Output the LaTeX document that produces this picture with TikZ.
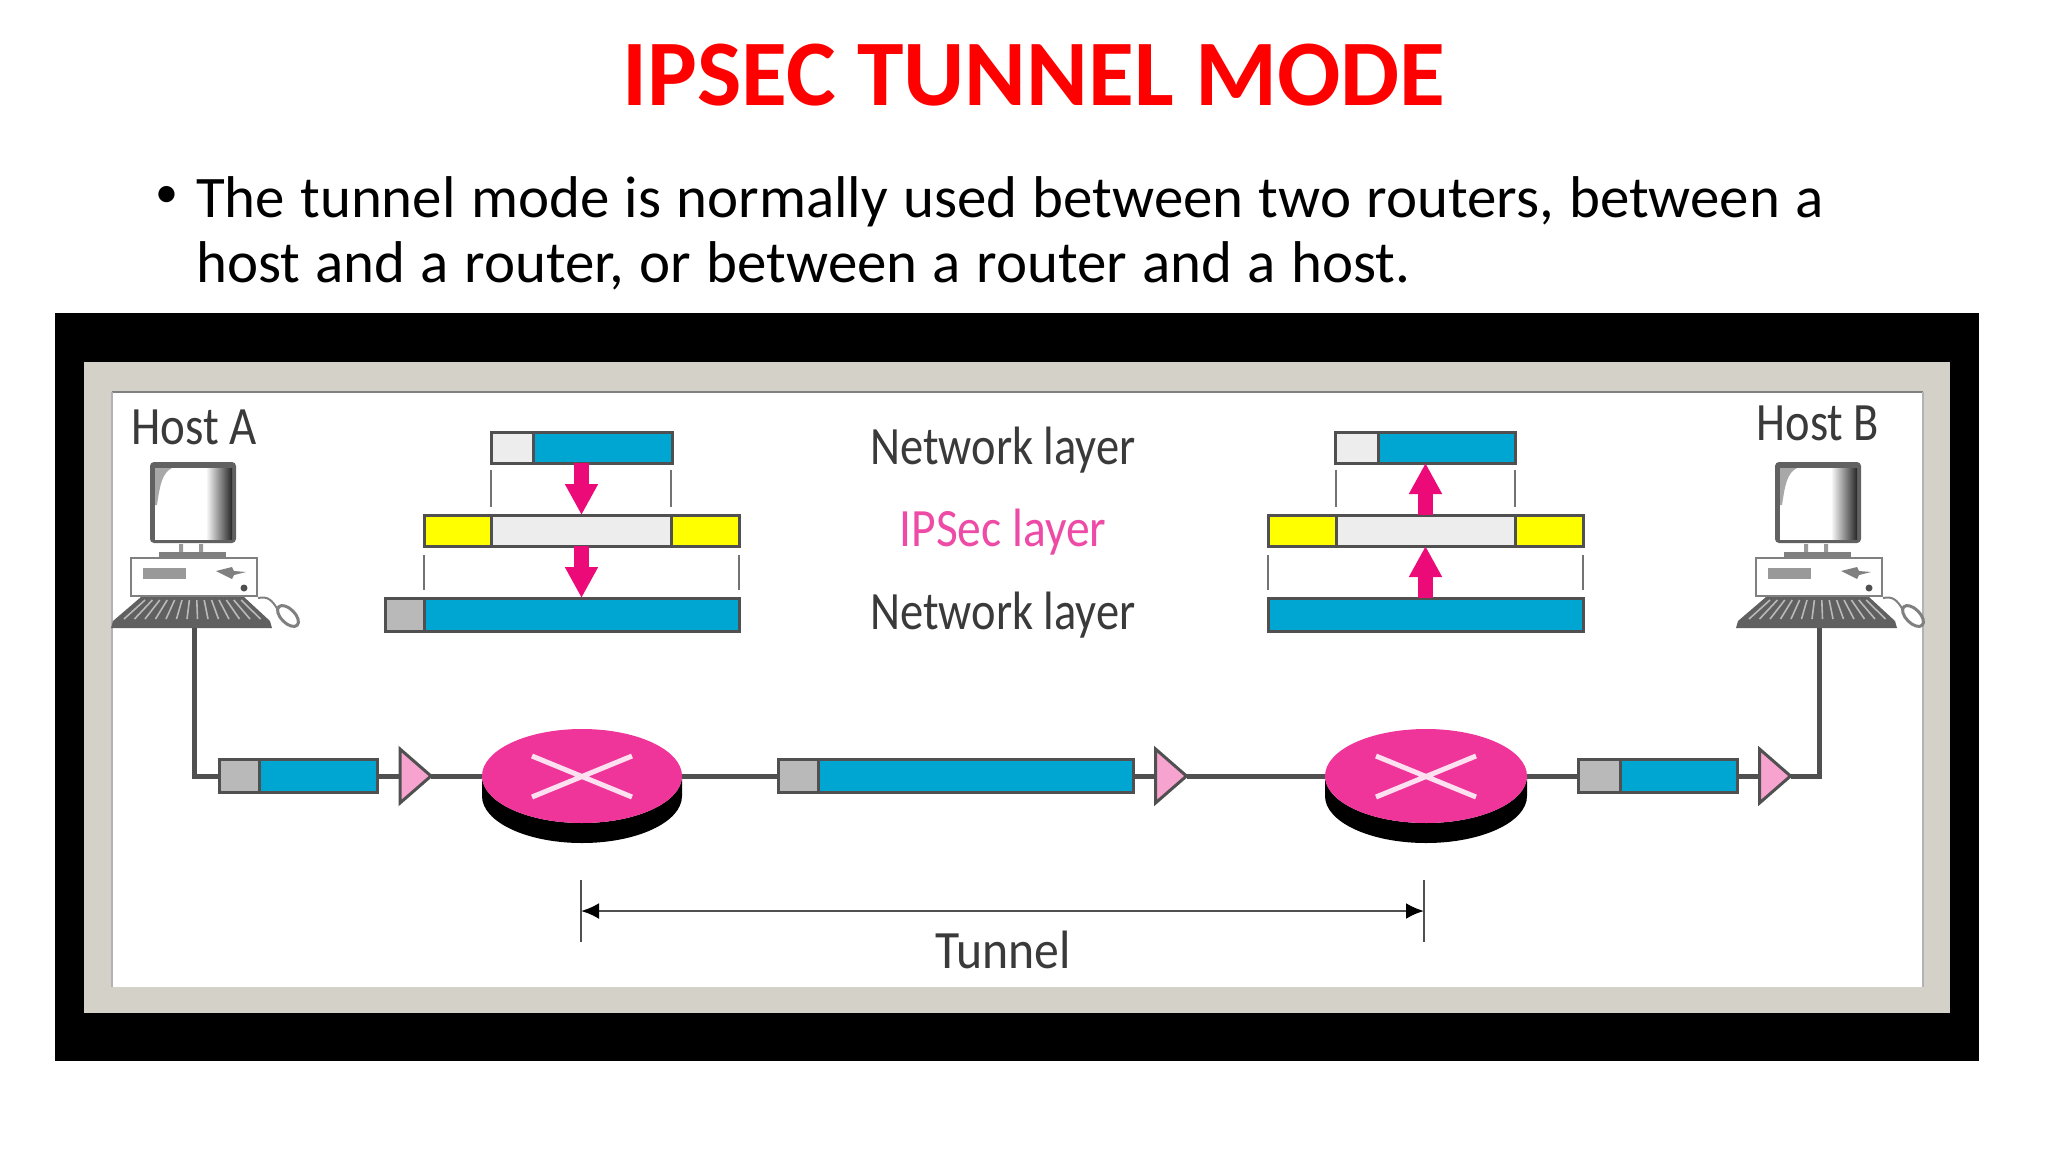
\documentclass[tikz,border=0pt]{standalone}
\usepackage{fontspec}
\setmainfont{Carlito}
\usetikzlibrary{arrows.meta,shapes.geometric}
\definecolor{framegrey}{HTML}{D3D1C8}
\definecolor{barblue}{HTML}{00A6D2}
\definecolor{baryellow}{HTML}{FFFF00}
\definecolor{hdrgrey}{HTML}{B9B9B9}
\definecolor{hdrlight}{HTML}{EDEDED}
\definecolor{edgegrey}{HTML}{505050}
\definecolor{routerpink}{HTML}{EF359A}
\definecolor{arrowpink}{HTML}{EC0A78}
\definecolor{tripink}{HTML}{F7A3CF}
\definecolor{ipsecpink}{HTML}{EE4BA6}
\definecolor{labelgrey}{HTML}{3A3A3A}
\pgfdeclarehorizontalshading{screenshade}{100bp}{color(0bp)=(white);color(25bp)=(white);color(58bp)=(white);color(75bp)=(black!85);color(100bp)=(black!85)}
\tikzset{
  x=1pt,y=-1pt,
  bar/.style={draw=edgegrey,line width=3pt,inner sep=0pt,outer sep=0pt,minimum height=#1,anchor=north west},
  bar/.default=31pt,
  linkline/.style={draw=edgegrey,line width=5pt,line join=miter},
  tick/.style={draw=edgegrey!80,line width=2pt},
  pinkarrow/.style={draw=arrowpink,line width=15pt,-{Triangle[length=31pt,width=31pt]},shorten >=0pt},
  tribox/.style={inner sep=0pt,outer sep=0pt,minimum width=31pt,minimum height=54pt},
  trifill/.style={fill=tripink,draw=edgegrey,line width=3pt,line join=miter},
  routertop/.style={ellipse,fill=routerpink,inner sep=0pt,outer sep=0pt},
  labeltext/.style={text=labelgrey,font=\fontsize{54}{54}\selectfont,inner sep=0pt},
}
% segmented packet: name, x, y, width, height, colour
\newcommand{\segbar}[6]{\node[bar=#5pt,minimum width=#4pt,fill=#6] (#1) at (#2,#3) {};}
\newcommand{\divider}[3]{\draw[edgegrey,line width=3pt] (#1,#2) -- (#1,#3);}
\newcommand{\hostpc}[2]{%
\begin{scope}[shift={(#1,0)}]
  \fill[edgegrey!90,rounded corners=4pt] (150,462) rectangle (236,543);
  \shade[shading=screenshade] (155,468) rectangle (232,539);
  \fill[edgegrey!50] (155,468) -- (172,468) .. controls (162,473) and (160,485) .. (157,505) -- (155,505) -- cycle;
  \fill[gray!80] (179,544) rectangle (183,554) (199,544) rectangle (203,554);
  \fill[gray] (159,552) rectangle (226,558);
  \draw[gray,line width=2pt,fill=white] (131,558) rectangle (257,596);
  \fill[gray!80] (143,568) rectangle (186,579);
  \fill[gray] (216,571) -- (232,567) -- (234,571) -- (246,572) -- (234,575) -- (232,579) -- cycle;
  \fill[edgegrey] (244,588) circle (3.5pt);
  \draw[gray,line width=2pt] (258,598) .. controls (268,596) and (272,600) .. (278,610);
  \draw[gray,line width=3pt,fill=white,rotate around={-45:(288,616)}] (288,616) ellipse (13pt and 7pt);
  \fill[gray!75!black] (141,597) -- (244,597) -- (270,621) -- (272,628) -- (111,628) -- (113,621) -- cycle;
  \foreach \k in {0,...,13} {\draw[gray!55,line width=1.6pt] (145+\k*7.4,600) -- (124+\k*10.5,619);}
  \node[inner sep=0pt,outer sep=0pt,minimum width=161pt,minimum height=1pt] (#2) at (194,628) {};
\end{scope}}
\begin{document}
\begin{tikzpicture}
\useasboundingbox (0,0) rectangle (2048,1152);
\fill[white] (0,0) rectangle (2048,1152);
% title and bullet text
\node[text=red,font=\fontsize{93.8}{94}\selectfont\bfseries,inner sep=0pt] (title) at (1034,75) {IPSEC TUNNEL MODE};
\node[font=\fontsize{46}{46}\selectfont,inner sep=0pt] (bullet) at (167,197) {•};
\node[font=\fontsize{58.9}{65}\selectfont,inner sep=0pt,align=left,anchor=north west,text width=1700pt] (body) at (196,176)
  {\spaceskip=15.3pt\relax The tunnel mode is normally used between two routers, between a\\host and a router, or between a router and a host.};
% frame
\fill[black] (55,313) rectangle (1979,1061);
\fill[framegrey] (84,362) rectangle (1950,1013);
\fill[white] (112,392) rectangle (1923,987);
\draw[gray,line width=2.5pt] (112,392) -- (1923,392);
\draw[gray!60,line width=2pt] (112,392) -- (112,987) (1923,392) -- (1923,987);
% hosts
\node[labeltext,xscale=.87] (hosta) at (194,427) {Host A};
\node[labeltext,xscale=.86] (hostb) at (1818,423) {Host B};
\hostpc{0}{pcA}
\hostpc{1625}{pcB}
% layer labels
\node[labeltext,xscale=.86] (netL1) at (1003,450) {Network layer};
\node[labeltext,xscale=.88,text=ipsecpink] (ipsec) at (1003,532) {IPSec layer};
\node[labeltext,xscale=.86] (netL2) at (1003,615) {Network layer};
% left stack
\draw[tick] (491,470) -- (491,507) (671,470) -- (671,507) (424,555) -- (424,590) (739,555) -- (739,590);
\segbar{lT}{491}{432}{181}{31}{barblue}
\fill[hdrlight] (491,432) rectangle (533,463);
\draw[edgegrey,line width=3pt] (lT.north west) rectangle (lT.south east);
\divider{533}{432}{463}
\segbar{lM}{424}{515}{315}{31}{hdrlight}
\fill[baryellow] (424,515) rectangle (491,546) (671,515) rectangle (739,546);
\draw[edgegrey,line width=3pt] (lM.north west) rectangle (lM.south east);
\divider{491}{515}{546}\divider{671}{515}{546}
\segbar{lB}{385}{598}{354}{33}{barblue}
\fill[hdrgrey] (385,598) rectangle (424,631);
\draw[edgegrey,line width=3pt] (lB.north west) rectangle (lB.south east);
\divider{424}{598}{631}
\draw[pinkarrow] (lT.south) -- (lM.north);
\draw[pinkarrow] (lM.south) -- (lM.south |- lB.north);
% right stack
\draw[tick] (1336,470) -- (1336,507) (1515,470) -- (1515,507) (1268,555) -- (1268,590) (1583,555) -- (1583,590);
\segbar{rT}{1335}{432}{180}{31}{barblue}
\fill[hdrlight] (1335,432) rectangle (1378,463);
\draw[edgegrey,line width=3pt] (rT.north west) rectangle (rT.south east);
\divider{1378}{432}{463}
\segbar{rM}{1268}{515}{315}{31}{hdrlight}
\fill[baryellow] (1268,515) rectangle (1336,546) (1515,515) rectangle (1583,546);
\draw[edgegrey,line width=3pt] (rM.north west) rectangle (rM.south east);
\divider{1336}{515}{546}\divider{1515}{515}{546}
\segbar{rB}{1268}{598}{315}{33}{barblue}
\draw[pinkarrow] (rM.north) -- (rM.north |- rT.south);
\draw[pinkarrow] (rB.north) -- (rM.south);
% nodes of the path
\node[tribox] (t1) at (415.5,776) {};
\node[tribox] (t2) at (1171,776) {};
\node[tribox] (t3) at (1775,776) {};
\segbar{p1}{219}{759.5}{158}{33}{barblue}
\segbar{p2}{778}{759.5}{355}{33}{barblue}
\segbar{p3}{1578}{759.5}{159}{33}{barblue}
\fill[black] (482,776) arc[start angle=180,end angle=0,x radius=100,y radius=47] -- (682,796) arc[start angle=0,end angle=180,x radius=100,y radius=47] -- cycle;
\fill[black] (1325,776) arc[start angle=180,end angle=0,x radius=101,y radius=47] -- (1527,796) arc[start angle=0,end angle=180,x radius=101,y radius=47] -- cycle;
\node[routertop,minimum width=200pt,minimum height=94pt] (r1) at (582,776) {};
\node[routertop,minimum width=202pt,minimum height=94pt] (r2) at (1426,776) {};
% links
\draw[linkline] (pcA.center) |- (p1.west);
\draw[linkline] (p1.east) -- (t1.west);
\draw[linkline] (t1.east) -- (r1.west);
\draw[linkline] (r1.east) -- (p2.west);
\draw[linkline] (p2.east) -- (t2.west);
\draw[linkline] (t2.east) -- (r2.west);
\draw[linkline] (r2.east) -- (p3.west);
\draw[linkline] (p3.east) -- (t3.west);
\draw[linkline] (t3.east) -| (pcB.center);
% redraw on top of links
\foreach \p/\hx in {p1/259,p2/818,p3/1620}{
  \fill[barblue] (\p.north west) rectangle (\p.south east);
  \fill[hdrgrey] (\p.north west) rectangle (\hx,792.5);
  \draw[edgegrey,line width=3pt] (\p.north west) rectangle (\p.south east);
  \draw[edgegrey,line width=3pt] (\hx,759.5) -- (\hx,792.5);
}
\foreach \t in {t1,t2,t3}{\draw[trifill] (\t.north west) -- (\t.east) -- (\t.south west) -- cycle;}
\foreach \c in {582,1426}{
  \draw[white!85!routerpink,line width=5pt] (\c-50,797) -- (\c+50,756) (\c-50,756) -- (\c+50,797);
}
% tunnel
\node[minimum width=0pt,minimum height=62pt,inner sep=0pt,outer sep=0pt] (tunA) at (581,911) {};
\node[minimum width=0pt,minimum height=62pt,inner sep=0pt,outer sep=0pt] (tunB) at (1424,911) {};
\draw[edgegrey,line width=2.5pt] (tunA.north) -- (tunA.south);
\draw[edgegrey,line width=2.5pt] (tunB.north) -- (tunB.south);
\draw[edgegrey,line width=2.5pt,{Latex[length=18pt,width=16pt,black]}-{Latex[length=18pt,width=16pt,black]}] (tunA.center) -- (tunB.center);
\node[labeltext,xscale=.92] (tunnel) at (1003,950) {Tunnel};
\end{tikzpicture}
\end{document}
